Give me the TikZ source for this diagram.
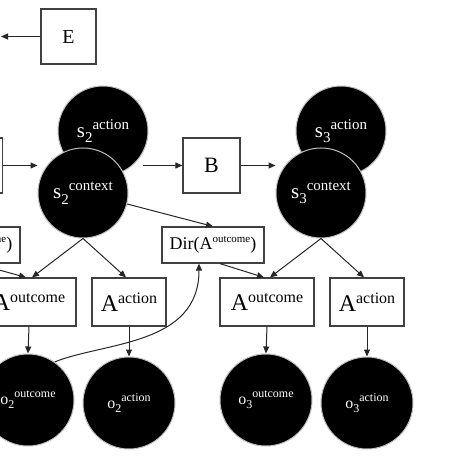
\documentclass[tikz,border=0pt]{standalone}
\usepackage{fontspec}
\setmainfont{Liberation Serif}
\usetikzlibrary{arrows.meta, positioning, calc}

\newcommand{\statelbl}[2]{s\raisebox{-0.25em}{\fontsize{15}{15}\selectfont #1}\raisebox{0.4em}{\fontsize{15}{15}\selectfont #2}}
\newcommand{\obslbl}[2]{o\raisebox{-0.25em}{\fontsize{12}{12}\selectfont #1}\raisebox{0.45em}{\fontsize{12}{12}\selectfont #2}}
\newcommand{\Albl}[1]{A\raisebox{0.33em}{\fontsize{16}{16}\selectfont #1}}
\newcommand{\dirlbl}{Dir(A\raisebox{0.4em}{\fontsize{11}{11}\selectfont outcome})}

\begin{document}
\begin{tikzpicture}[x=1bp, y=-1bp,
    box/.style={draw=black!75, line width=1.2bp, inner sep=0pt, minimum height=55bp},
    abox/.style={box, minimum height=48bp, font=\fontsize{24}{24}\selectfont},
    dirbox/.style={box, minimum width=102bp, minimum height=36bp, font=\fontsize{18}{18}\selectfont},
    state/.style={circle, fill=black, draw=black!25, line width=1bp, text=white,
        minimum size=90bp, inner sep=0pt, font=\fontsize{21}{21}\selectfont},
    obs/.style={state, minimum size=92bp, font=\fontsize{16}{16}\selectfont},
    arr/.style={-{Triangle[length=7bp,width=6bp]}, line width=1bp, draw=black!85}]
\useasboundingbox (0,0) rectangle (474,474);

% previous step (cut off on the left)
\coordinate (s1c) at (1,36.5);
\node[box, minimum width=57bp] (B1) at (-26,165.5) {};
\node[dirbox] (dir1) at (-31,245) {\dirlbl};

\node[box, minimum width=55bp, font=\fontsize{20}{20}\selectfont] (E) at (68.5,36.5) {E};
\node[box, minimum width=57bp, font=\fontsize{22}{22}\selectfont] (B) at (211.5,165.5) {B};
\node[dirbox] (dir2) at (213,245) {\dirlbl};

% time steps
\foreach \t/\dx in {2/0, 3/238} {
    \node[state] (s\t a) at (103+\dx,131) {\statelbl{\t}{action}};
    \node[state] (s\t c) at (83+\dx,193) {\statelbl{\t}{context}};
    \node[abox, minimum width=94bp] (Aout\t) at (29+\dx,302) {\Albl{outcome}};
    \node[abox, minimum width=74bp] (Aact\t) at (129+\dx,302) {\Albl{action}};
    \node[obs] (oo\t) at (28+\dx,400) {\obslbl{\t}{outcome}};
    \node[obs] (oa\t) at (129+\dx,403) {\obslbl{\t}{action}};
    \draw[arr] (s\t c.south) -- ([xshift=3bp]Aout\t.north);
    \draw[arr] (s\t c.south) -- ([xshift=-3bp]Aact\t.north);
    \draw[arr] (Aout\t.south) -- (oo\t.north);
    \draw[arr] (Aact\t.south) -- (oa\t.north);
}

\draw[arr] (E.west) -- (s1c);
\draw[arr] (B1.east) -- (B1.east -| s2c.west);
\draw[arr, shorten <=40bp] (s2a.center |- B.west) -- (B.west);
\draw[arr] (B.east) -- (B.east -| s3c.west);
\draw[arr] (s2c.-14) -- (dir2.north);
\draw[arr] ([xshift=7bp]dir1.south) -- ([xshift=-3bp]Aout2.north);
\draw[arr] ([xshift=7bp]dir2.south) -- ([xshift=-3bp]Aout3.north);
\draw[arr] (oo2.55) .. controls +(50,-20) and +(0,82) .. ([xshift=-14bp]dir2.south);
\end{tikzpicture}
\end{document}
